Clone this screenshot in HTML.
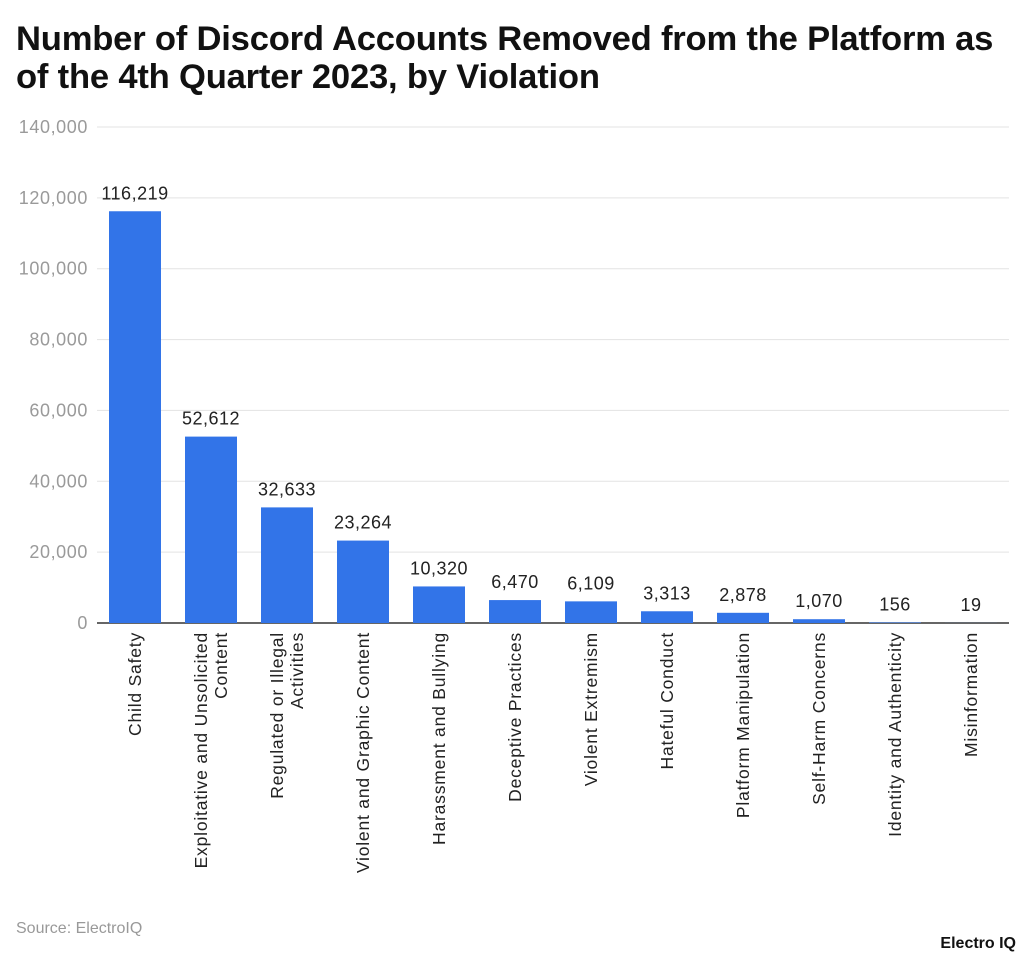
<!DOCTYPE html>
<html><head><meta charset="utf-8"><style>
body{margin:0;background:#fff;font-family:"Liberation Sans",sans-serif;}
#wrap{position:relative;width:1024px;height:955px;overflow:hidden;}
h1{position:absolute;left:16px;top:20px;margin:0;font-size:34.6px;line-height:38px;font-weight:bold;color:#111;letter-spacing:-0.2px;}
</style></head><body>
<div id="wrap">
<h1>Number of Discord Accounts Removed from the Platform as<br>of the 4th Quarter 2023, by Violation</h1>
<svg id="chart" width="1024" height="955" style="position:absolute;left:0;top:0"></svg>
</div>
<script>
const categories=["Child Safety","Exploitative and Unsolicited|Content","Regulated or Illegal|Activities","Violent and Graphic Content","Harassment and Bullying","Deceptive Practices","Violent Extremism","Hateful Conduct","Platform Manipulation","Self-Harm Concerns","Identity and Authenticity","Misinformation"];
const values=[116219,52612,32633,23264,10320,6470,6109,3313,2878,1070,156,19];
const yTicks=[0,20000,40000,60000,80000,100000,120000,140000];
const svg=document.getElementById('chart');
const NS='http://www.w3.org/2000/svg';
const x0=97,x1=1009,yTop=127,yBot=623,yMax=140000;
const band=(x1-x0)/categories.length,barW=52;
function y(v){return yBot-(v/yMax)*(yBot-yTop);}
function xc(i){return x0+band*i+band/2;}
function mk(t,a,txt){const e=document.createElementNS(NS,t);for(const k in a)e.setAttribute(k,a[k]);if(txt!==undefined)e.textContent=txt;svg.appendChild(e);return e;}
yTicks.forEach(t=>{
 const g=mk('line',{x1:x0,x2:x1,y1:y(t),y2:y(t),stroke:t===0?'#333':'#e3e3e3','stroke-width':t===0?1.5:1});
 
 
 const l=mk('text',{x:88,y:y(t)+6,'text-anchor':'end','font-size':18,'letter-spacing':0.6,fill:'#9a9a9a'},t.toLocaleString('en-US'));
 
 
});
values.forEach((v,i)=>{
 const r=mk('rect',{x:xc(i)-barW/2,y:y(v),width:barW,height:yBot-y(v),fill:'#3274e8'});
 
 
 const t=mk('text',{x:xc(i),y:y(v)-12,'text-anchor':'middle','font-size':18,'letter-spacing':0.5,fill:'#222'},v.toLocaleString('en-US'));
 
 
 const lines=categories[i].split('|');
 lines.forEach((ln,j)=>{
  const off=(j-(lines.length-1)/2)*20;
  const c=mk('text',{transform:`translate(${xc(i)+6+off},632) rotate(-90)`,'text-anchor':'end','font-size':17.5,'letter-spacing':0.8,fill:'#222'},ln);
  
  
 });
});
const s=mk('text',{x:16,y:933,'font-size':16,fill:'#999'},'Source: ElectroIQ');


const b=mk('text',{x:1016,y:948,'text-anchor':'end','font-size':16,'font-weight':'bold',fill:'#111'},'Electro IQ');


</script>
</body></html>
